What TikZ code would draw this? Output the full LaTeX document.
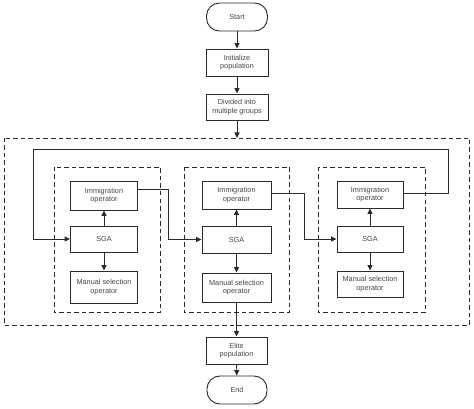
\documentclass[tikz,border=0pt]{standalone}
\usepackage{fontspec}
\setmainfont{Liberation Sans}
\usetikzlibrary{arrows.meta}
\definecolor{ln}{HTML}{2A2A2A}
\definecolor{tx}{HTML}{454545}
\tikzset{
  box/.style={draw=ln,line width=0.95pt,fill=white,align=center,inner sep=0pt,
    font=\fontsize{7.3}{8.7}\selectfont,text=tx},
  term/.style={box,rounded corners=13pt},
  grp/.style={draw=ln,line width=0.95pt,dash pattern=on 4.5pt off 3pt},
  conn/.style={draw=ln,line width=0.95pt},
  arr/.style={conn,-{Triangle[length=5.5pt,width=5pt]}},
}
\begin{document}
\begin{tikzpicture}[x=1pt,y=-1pt]
\useasboundingbox (0,0) rectangle (474,409);
% outer and group frames
\draw[grp] (4,138) rectangle (469,325);
\draw[grp] (54,167) rectangle (160,312);
\draw[grp] (184,167) rectangle (289,312);
\draw[grp] (318,167) rectangle (425,312);
% top chain
\node[term,minimum width=61pt,minimum height=28pt] (start) at (237,17) {Start};
\node[box,minimum width=62pt,minimum height=27pt] (init) at (237,62.5) {Initialize\\population};
\node[box,minimum width=62pt,minimum height=26pt] (div) at (237,107) {Divided into\\multiple groups};
\coordinate (outtop) at (237,138);
% group 1
\node[box,minimum width=67pt,minimum height=29pt] (i1) at (104,195.5) {Immigration\\operator};
\node[box,minimum width=67pt,minimum height=26pt] (s1) at (104,239) {SGA};
\node[box,minimum width=67pt,minimum height=32pt] (m1) at (104,287) {Manual selection\\operator};
% group 2
\node[box,minimum width=69pt,minimum height=28pt] (i2) at (236.5,195) {Immigration\\operator};
\node[box,minimum width=69pt,minimum height=27pt] (s2) at (236.5,239.5) {SGA};
\node[box,minimum width=69pt,minimum height=29pt] (m2) at (236.5,287.5) {Manual selection\\operator};
% group 3
\node[box,minimum width=66pt,minimum height=27pt] (i3) at (370,194.5) {Immigration\\operator};
\node[box,minimum width=66pt,minimum height=26pt] (s3) at (370,239) {SGA};
\node[box,minimum width=66pt,minimum height=26pt] (m3) at (370,284) {Manual selection\\operator};
% bottom chain
\node[box,minimum width=61pt,minimum height=27pt] (elite) at (236.5,350.5) {Elite\\population};
\node[term,minimum width=60pt,minimum height=28pt] (end) at (237,390) {End};
% connectors
\draw[arr] (start) -- (init);
\draw[arr] (init) -- (div);
\draw[arr] (div) -- (outtop);
\foreach \g in {1,2,3}{
  \draw[arr] (s\g) -- (i\g);
  \draw[arr] (s\g) -- (m\g);
}
\coordinate (c1) at (168,189);
\draw[arr] (i1.east |- c1) -- (c1) |- (s2.west);
\coordinate (c2) at (304,193);
\draw[arr] (i2.east |- c2) -- (c2) |- (s3.west);
\coordinate (r1) at (448,193);
\coordinate (r2) at (448,149);
\coordinate (l1) at (33,149);
\draw[arr] (i3.east |- r1) -- (r1) -- (r2) -- (l1) |- (s1.west);
\draw[arr] (m2) -- (elite);
\draw[arr] (elite) -- (end);
\end{tikzpicture}
\end{document}
